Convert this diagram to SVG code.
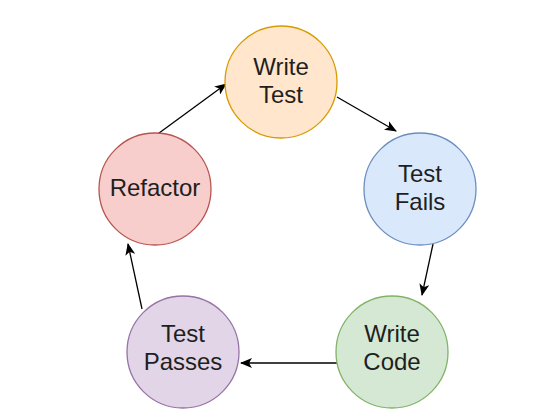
<svg xmlns="http://www.w3.org/2000/svg" width="556" height="413" viewBox="0 0 556 413">
<style>
.n{stroke-width:1.3}
.t{font-family:"Liberation Sans",Arial,sans-serif;font-size:24px;fill:#1f1f1f;text-anchor:middle}
.e{stroke:#000;stroke-width:1.3;fill:none;marker-end:url(#a)}
</style>
<defs>
<marker id="a" viewBox="0 0 12 10" refX="11" refY="5" markerWidth="12" markerHeight="10" markerUnits="userSpaceOnUse" orient="auto">
<path d="M0,0 L12,5 L0,10 L3,5 Z" fill="#000"/>
</marker>
</defs>
<rect width="556" height="413" fill="#fff"/>
<g id="connectors">
<line class="e" x1="337" y1="97" x2="396" y2="131"/>
<line class="e" x1="433" y1="244" x2="422" y2="295"/>
<line class="e" x1="337" y1="363" x2="241" y2="363"/>
<line class="e" x1="142" y1="309" x2="128" y2="244"/>
<line class="e" x1="155" y1="136" x2="226" y2="84"/>
</g>
<g id="write-test">
<circle class="n" cx="281" cy="82" r="56" fill="#ffe6cc" stroke="#d79b00"/>
<text class="t" x="281" y="75">Write</text>
<text class="t" x="281" y="103">Test</text>
</g>
<g id="test-fails">
<circle class="n" cx="420" cy="189" r="56" fill="#dae8fc" stroke="#6c8ebf"/>
<text class="t" x="420" y="182">Test</text>
<text class="t" x="420" y="210">Fails</text>
</g>
<g id="write-code">
<circle class="n" cx="392" cy="352" r="56" fill="#d5e8d4" stroke="#82b366"/>
<text class="t" x="392" y="342">Write</text>
<text class="t" x="392" y="370">Code</text>
</g>
<g id="test-passes">
<circle class="n" cx="183" cy="352" r="56" fill="#e1d5e7" stroke="#9673a6"/>
<text class="t" x="183" y="342">Test</text>
<text class="t" x="183" y="370">Passes</text>
</g>
<g id="refactor">
<circle class="n" cx="155" cy="189" r="56" fill="#f8cecc" stroke="#b85450"/>
<text class="t" x="155" y="196">Refactor</text>
</g>
</svg>
